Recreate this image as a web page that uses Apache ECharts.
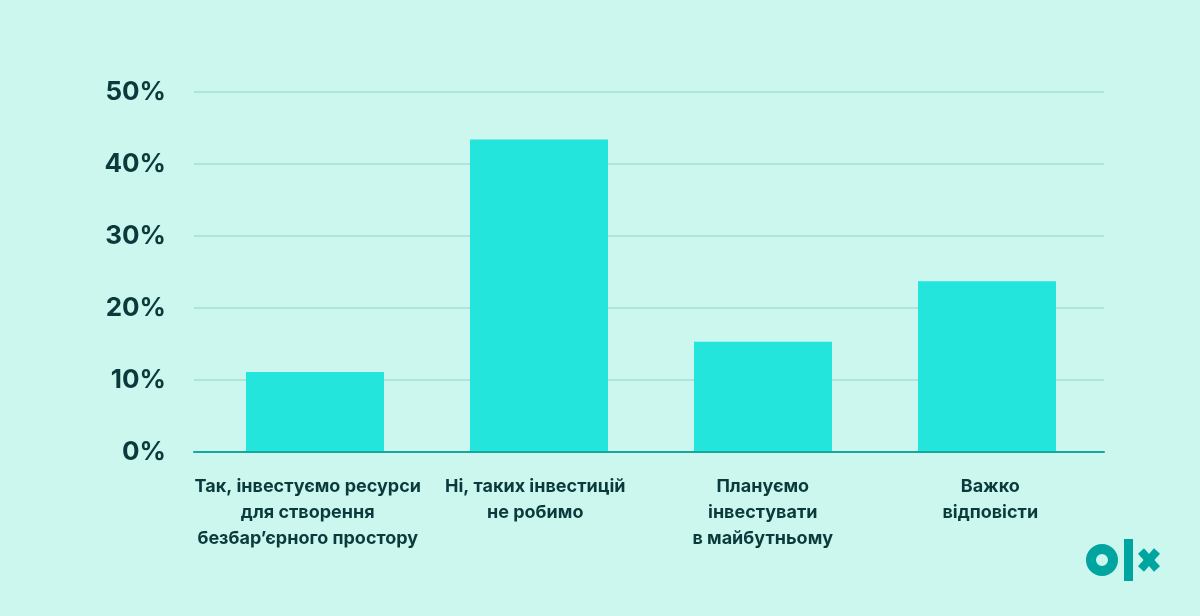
<!DOCTYPE html>
<html>
<head>
<meta charset="utf-8">
<style>
  html, body { margin: 0; padding: 0; background: #cbf7ee; }
  #chart { width: 1200px; height: 616px; }
</style>
<script src="https://cdn.jsdelivr.net/npm/echarts@6/dist/echarts.min.js"></script>
</head>
<body>
<div id="chart"></div>
<script>
const categories = [
  'Так, інвестуємо ресурси\nдля створення\nбезбар’єрного простору',
  'Ні, таких інвестицій\nне робимо',
  'Плануємо\nінвестувати\nв майбутньому',
  'Важко\nвідповісти'
]
const values = [11.1, 43.4, 15.3, 23.7]
const yTicks = [0, 10, 20, 30, 40, 50]

const TEXT = '#0b3a3c'
const BAR = '#23e5db'
const LOGO = '#00a59f'
const FONT = 'Inter, "Noto Sans", sans-serif'

const chart = echarts.init(document.getElementById('chart'))

chart.setOption({
  backgroundColor: '#cbf7ee',
  animation: false,
  grid: [
    // grid 0: axis labels, split lines, baseline
    { left: 194, right: 96, top: 92, bottom: 164 },
    // grid 1: bars (slightly narrower, like the reference)
    { left: 203, right: 101, top: 92, bottom: 164 }
  ],
  xAxis: [
    {
      gridIndex: 0,
      type: 'category',
      data: categories,
      axisLine: { lineStyle: { color: '#14a89e', width: 2 } },
      axisTick: { show: false },
      axisLabel: {
        color: TEXT,
        fontFamily: FONT,
        fontWeight: 'bold',
        fontSize: 18,
        lineHeight: 26,
        margin: 22,
        interval: 0
      },
      z: 3
    },
    {
      gridIndex: 1,
      type: 'category',
      data: categories,
      show: false
    }
  ],
  yAxis: [
    {
      gridIndex: 0,
      type: 'value',
      min: yTicks[0],
      max: yTicks[yTicks.length - 1],
      interval: 10,
      axisLine: { show: false },
      axisTick: { show: false },
      axisLabel: {
        formatter: '{value}%',
        color: TEXT,
        fontFamily: FONT,
        fontWeight: 'bold',
        fontSize: 26,
        margin: 28
      },
      splitLine: { lineStyle: { color: '#9fe3d6', width: 1.5 } }
    },
    {
      gridIndex: 1,
      type: 'value',
      min: yTicks[0],
      max: yTicks[yTicks.length - 1],
      interval: 10,
      show: false,
      splitLine: { show: false }
    }
  ],
  series: [
    {
      type: 'bar',
      xAxisIndex: 1,
      yAxisIndex: 1,
      data: values,
      barWidth: 138,
      itemStyle: { color: BAR },
      z: 1
    }
  ],
  graphic: [
    {
      type: 'ring',
      shape: { cx: 1102, cy: 560, r: 16, r0: 6 },
      style: { fill: LOGO }
    },
    {
      type: 'rect',
      shape: { x: 1124, y: 539, width: 9, height: 42 },
      style: { fill: LOGO }
    },
    {
      type: 'line',
      shape: { x1: 1141, y1: 551, x2: 1157, y2: 569 },
      style: { stroke: LOGO, lineWidth: 8 }
    },
    {
      type: 'line',
      shape: { x1: 1157, y1: 551, x2: 1141, y2: 569 },
      style: { stroke: LOGO, lineWidth: 8 }
    }
  ]
})
</script>
</body>
</html>
